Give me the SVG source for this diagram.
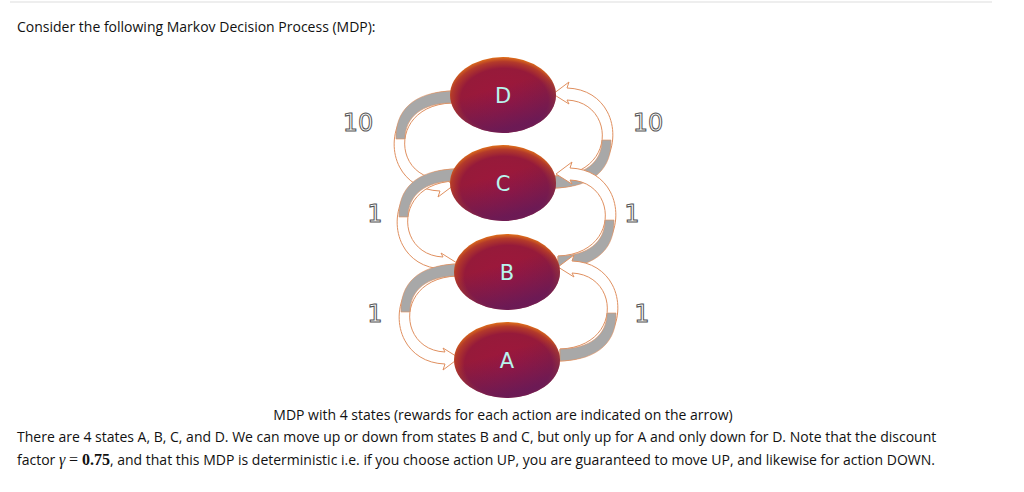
<svg xmlns="http://www.w3.org/2000/svg" width="1024" height="492" viewBox="0 0 1024 492">
<style>
.t{font-family:"Open Sans","Noto Sans",sans-serif;font-size:14px;fill:#111}
.lbl{font-family:"DejaVu Sans",sans-serif;font-size:24px;fill:#fff;stroke:#555;stroke-width:1}
.nl{font-family:"DejaVu Sans",sans-serif;font-size:21px;fill:#b8f5ee}
.arr{fill:#fff;stroke:#e09060;stroke-width:1}
.band{fill:#a8a8a8;stroke:#e09060;stroke-width:0.6}
</style>
<defs>
<radialGradient id="g" cx="0.5" cy="0.55" r="0.55" fx="0.55" fy="0.6">
<stop offset="0" stop-color="#a0163c"/><stop offset="0.75" stop-color="#961a3a"/><stop offset="0.9" stop-color="#b33a2a"/><stop offset="1" stop-color="#e0701a"/>
</radialGradient>
<linearGradient id="p" x1="0" y1="0" x2="0.4" y2="1">
<stop offset="0.5" stop-color="#5a1a60" stop-opacity="0"/><stop offset="1" stop-color="#5a1a60" stop-opacity="0.7"/>
</linearGradient>
<g id="la">
<path class="arr" d="M0,-6 C-75,-4 -75,92 -12,94 L-14,100 L2,88 L-14,78 L-12,82 C-60,80 -62,8 0,6 Z"/>
<path class="band" d="M0,-6 C-40,-5 -57,15 -56,42 L-47,42 C-47,20 -30,6 0,6 Z"/>
</g>
</defs>
<line x1="10" y1="2" x2="992" y2="2" stroke="#ddd"/>
<text class="t" x="17" y="32">Consider the following Markov Decision Process (MDP):</text>
<g id="connectors">
<use href="#la" transform="translate(452,97)"/>
<use href="#la" transform="translate(455,175)"/>
<use href="#la" transform="translate(457,270)"/>
<use href="#la" transform="translate(555,182) rotate(180)"/>
<use href="#la" transform="translate(558,262) rotate(180)"/>
<use href="#la" transform="translate(560,355) rotate(180)"/>
</g>
<g id="D"><ellipse cx="503" cy="95" rx="53" ry="38" fill="url(#g)"/><ellipse cx="503" cy="95" rx="53" ry="38" fill="url(#p)"/><text class="nl" x="503" y="103" text-anchor="middle">D</text></g>
<g id="C"><ellipse cx="503" cy="183" rx="53" ry="38" fill="url(#g)"/><ellipse cx="503" cy="183" rx="53" ry="38" fill="url(#p)"/><text class="nl" x="503" y="191" text-anchor="middle">C</text></g>
<g id="B"><ellipse cx="507" cy="272" rx="53" ry="38" fill="url(#g)"/><ellipse cx="507" cy="272" rx="53" ry="38" fill="url(#p)"/><text class="nl" x="507" y="280" text-anchor="middle">B</text></g>
<g id="A"><ellipse cx="507" cy="360" rx="53" ry="38" fill="url(#g)"/><ellipse cx="507" cy="360" rx="53" ry="38" fill="url(#p)"/><text class="nl" x="507" y="368" text-anchor="middle">A</text></g>
<text class="lbl" x="358" y="131" text-anchor="middle">10</text>
<text class="lbl" x="648" y="131" text-anchor="middle">10</text>
<text class="lbl" x="375" y="222" text-anchor="middle">1</text>
<text class="lbl" x="632" y="222" text-anchor="middle">1</text>
<text class="lbl" x="375" y="322" text-anchor="middle">1</text>
<text class="lbl" x="642" y="322" text-anchor="middle">1</text>
<text class="t" x="503" y="420" text-anchor="middle" font-size="13.5">MDP with 4 states (rewards for each action are indicated on the arrow)</text>
<text class="t" x="17" y="442">There are 4 states A, B, C, and D. We can move up or down from states B and C, but only up for A and only down for D. Note that the discount</text>
<text class="t" x="17" y="465">factor <tspan font-family="Liberation Serif,serif" font-style="italic" font-size="16">γ</tspan> <tspan font-family="Liberation Serif,serif" font-size="16">= </tspan><tspan font-family="Liberation Serif,serif" font-weight="bold" font-size="16">0.75</tspan>, and that this MDP is deterministic i.e. if you choose action UP, you are guaranteed to move UP, and likewise for action DOWN.</text>
</svg>
